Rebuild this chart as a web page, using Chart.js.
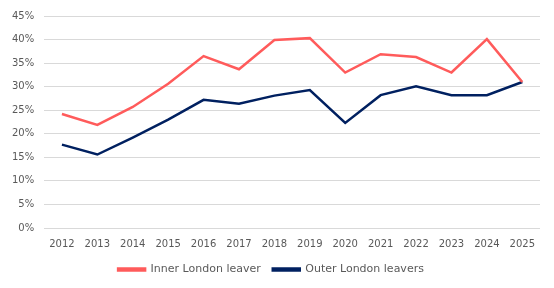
<!DOCTYPE html>
<html>
<head>
<meta charset="utf-8">
<script src="https://cdn.jsdelivr.net/npm/chart.js@4"></script>
<style>
  html, body { margin: 0; padding: 0; background: #fff; }
  #wrap { width: 554px; height: 288px; }
</style>
</head>
<body>
<div id="wrap"><canvas id="chart"></canvas></div>
<script>
const years = ['2012', '2013', '2014', '2015', '2016', '2017', '2018', '2019', '2020', '2021', '2022', '2023', '2024', '2025'];
const innerLondon = [24.2, 21.9, 25.7, 30.6, 36.5, 33.7, 39.9, 40.3, 33.0, 36.9, 36.3, 33.0, 40.1, 31.0];
const outerLondon = [17.7, 15.6, 19.2, 23.0, 27.2, 26.4, 28.1, 29.3, 22.3, 28.2, 30.1, 28.2, 28.2, 31.0];

Chart.defaults.font.family = "'DejaVu Sans', sans-serif";
Chart.defaults.font.size = 10;
Chart.defaults.color = '#595959';

new Chart(document.getElementById('chart').getContext('2d'), {
  type: 'line',
  data: {
    labels: years,
    datasets: [
      {
        label: 'Inner London leaver',
        data: innerLondon,
        borderColor: '#FF5B5B',
        backgroundColor: '#FF5B5B',
        borderWidth: 2.5,
        pointRadius: 0,
        tension: 0
      },
      {
        label: 'Outer London leavers',
        data: outerLondon,
        borderColor: '#002060',
        backgroundColor: '#002060',
        borderWidth: 2.5,
        pointRadius: 0,
        tension: 0
      }
    ]
  },
  options: {
    responsive: true,
    maintainAspectRatio: false,
    animation: false,
    layout: { padding: { left: 2, right: 14, top: 7, bottom: 3 } },
    scales: {
      x: {
        offset: true,
        grid: { display: false },
        border: { display: false },
        ticks: { maxRotation: 0, padding: 2 }
      },
      y: {
        min: 0,
        max: 45,
        grid: { color: '#D9D9D9', lineWidth: 1, drawTicks: false },
        border: { display: false },
        ticks: { stepSize: 5, padding: 10, callback: v => v + '%' }
      }
    },
    plugins: {
      legend: {
        position: 'bottom',
        labels: { boxWidth: 27, boxHeight: 2, padding: 12, font: { size: 11 } }
      },
      tooltip: { enabled: false }
    }
  }
});
</script>
</body>
</html>
